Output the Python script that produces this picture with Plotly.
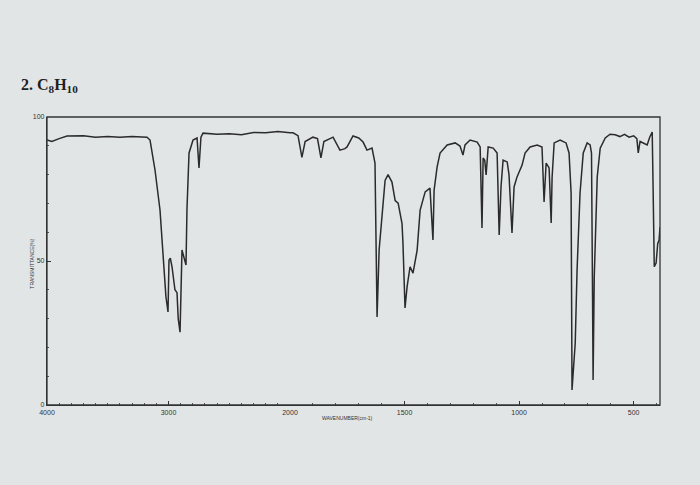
import plotly.graph_objects as go

# Wavenumber (cm-1) and transmittance (%), high-wavenumber part (4000-2000)
wn_high = [4000, 3960, 3900, 3835, 3700, 3600, 3500, 3400, 3300, 3200, 3177, 3152, 3111,
           3070, 3045, 3021, 3004, 2996, 2985, 2971, 2947, 2930, 2920, 2905, 2889, 2872,
           2856, 2848, 2831, 2798, 2765, 2749, 2733, 2716, 2600, 2500, 2400, 2300, 2200,
           2100, 2020, 2000]
t_high = [92, 91.5, 92.5, 93.4, 93.5, 93, 93.2, 93, 93.2, 93, 93, 92, 81.6,
          67.7, 53.8, 37.5, 32.3, 50.3, 51, 48, 40, 39, 30, 25.3, 53.8, 51.4,
          48.6, 68, 87.5, 92, 92.7, 82.3, 93, 94.4, 94, 94.2, 93.8, 94.6, 94.5,
          95, 94.8, 94.5]

# Low-wavenumber part (2000-385)
wn_low = [2000, 1987, 1965, 1948, 1934, 1900, 1880, 1865, 1852, 1812, 1782, 1760, 1751,
          1725, 1700, 1681, 1664, 1642, 1629, 1620, 1611, 1598, 1585, 1572, 1555, 1541,
          1528, 1511, 1507, 1498, 1489, 1476, 1463, 1445, 1432, 1410, 1389, 1376, 1371,
          1358, 1345, 1314, 1279, 1258, 1245, 1236, 1214, 1183, 1170, 1162, 1157, 1150,
          1144, 1135, 1113, 1096, 1087, 1079, 1070, 1052, 1044, 1031, 1022, 1009, 987,
          974, 952, 921, 900, 891, 882, 869, 860, 856, 847, 821, 795, 782, 773, 769,
          755, 747, 734, 720, 703, 690, 684, 680, 677, 672, 659, 646, 624, 603, 581,
          560, 540, 520, 500, 486, 480, 472, 460, 441, 430, 419, 415, 410, 402, 395,
          389, 385]
t_low = [94.5, 94.5, 93.5, 86, 91.5, 93, 92.5, 85.8, 91.5, 93, 88.5, 89, 89.6,
         93.4, 92.7, 91.3, 88.5, 89.2, 84, 30.6, 53.8, 65.3, 78, 80, 77.4, 71,
         70.1, 63, 56.3, 33.7, 41, 48, 45.8, 53.8, 67.7, 74, 75.3, 57.3, 74.6,
         82.6, 87.5, 90.3, 91, 89.9, 86.8, 90.3, 92, 91.3, 89.6, 61.5, 85.8, 85,
         79.9, 89.6, 89.2, 87.5, 59, 75.7, 85, 84.4, 79.9, 59.7, 75.7, 79.2, 83.3,
         87.5, 89.6, 90.3, 89.6, 70.5, 84, 82.3, 63.2, 79, 91, 92, 91, 87.5, 73.6, 5.2,
         21.5, 46.9, 73.6, 87.5, 91, 90.3, 87.5, 44.4, 8.7, 44.4, 79.2, 89.2, 92.7, 94, 93.8,
         93.2, 94, 93, 93.5, 92.5, 87.5, 91.5, 91, 90.3, 93, 94.8, 74.6, 48, 49.3, 56,
         57.3, 61.8]

x_high_ticks = [4000, 3000, 2000]
x_low_ticks = [1500, 1000, 500]
y_ticks = [0, 50, 100]

line_color = "#2b2b2b"
bg = "#e2e5e6"
tick_font = dict(family="Liberation Sans", size=7, color="#333333")

split = 243 / 613

fig = go.Figure()
fig.add_trace(go.Scatter(x=wn_high, y=t_high, mode="lines", xaxis="x", yaxis="y",
                         line=dict(color=line_color, width=1.5), showlegend=False))
fig.add_trace(go.Scatter(x=wn_low, y=t_low, mode="lines", xaxis="x2", yaxis="y",
                         line=dict(color=line_color, width=1.5), showlegend=False))

common_x = dict(showgrid=False, zeroline=False, showline=True, linecolor="#333333",
                linewidth=1.2, ticks="inside", ticklen=4, tickcolor="#333333",
                tickfont=tick_font,
                minor=dict(dtick=100, ticks="inside", ticklen=2, tickcolor="#555555"))

fig.update_layout(
    width=700, height=485,
    margin=dict(l=47, r=40, t=117, b=80),
    paper_bgcolor=bg, plot_bgcolor=bg,
    title=dict(text="<b>2. C<sub>8</sub>H<sub>10</sub></b>", x=21 / 700, xanchor="left",
               xref="container", y=1 - 84 / 485, yanchor="middle", yref="container",
               font=dict(family="Liberation Serif", size=16, color="#1e1e1e")),
    xaxis=dict(domain=[0, split], range=[4000, 2000], anchor="y",
               tickvals=x_high_ticks, ticktext=[str(v) for v in x_high_ticks], **common_x),
    xaxis2=dict(domain=[split, 1], range=[2000, 385], anchor="y",
                tickvals=x_low_ticks, ticktext=[str(v) for v in x_low_ticks], **common_x),
    yaxis=dict(range=[0, 100], showgrid=False, zeroline=False, showline=True,
               linecolor="#333333", linewidth=1.2, ticks="inside", ticklen=4,
               tickcolor="#333333", tickvals=y_ticks, ticktext=[str(v) for v in y_ticks],
               tickfont=tick_font,
               minor=dict(dtick=10, ticks="inside", ticklen=2, tickcolor="#555555")),
    shapes=[dict(type="rect", xref="paper", yref="paper", x0=0, x1=1, y0=0, y1=1,
                 line=dict(color="#333333", width=1.3))],
    annotations=[
        dict(text="TRANSMITTANCE(%)", xref="paper", yref="paper", x=-0.033, y=0.49,
             textangle=-90, showarrow=False, font=dict(family="Liberation Sans", size=5, color="#333333")),
        dict(text="WAVENUMBER(cm-1)", xref="paper", yref="paper", x=0.49, y=-0.062,
             showarrow=False, font=dict(family="Liberation Sans", size=5, color="#333333")),
    ],
)

fig.write_html("out.html", config={"displayModeBar": False},
               post_script="document.body.style.margin='0';document.body.style.background='" + bg + "';")
